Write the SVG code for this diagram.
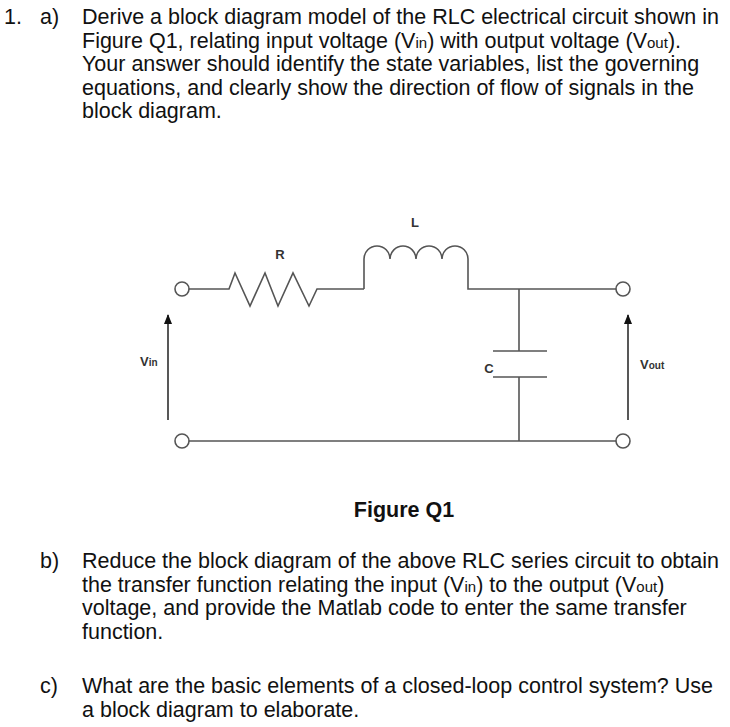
<svg xmlns="http://www.w3.org/2000/svg" width="730" height="727" viewBox="0 0 730 727">
<style>
.t{font-family:"Liberation Sans",Arial,sans-serif;font-size:21.5px;fill:#111}
.l{font-family:"Liberation Sans",Arial,sans-serif;font-size:13px;fill:#333}
.s{font-size:10px}
.w{fill:none;stroke:#555;stroke-width:1.6}
</style>
<defs><marker id="ah" markerWidth="10" markerHeight="8" refX="9" refY="4" orient="auto" markerUnits="userSpaceOnUse" viewBox="0 0 10 8"><path d="M0,0 L10,4 L0,8 Z" fill="#111"/></marker></defs>
<rect width="730" height="727" fill="#fff"/>
<g id="text">
<text class="t" x="4" y="24">1.</text>
<text class="t" x="40" y="24">a)</text>
<text class="t" x="82" y="24">Derive a block diagram model of the RLC electrical circuit shown in</text>
<text class="t" x="82" y="47.5">Figure Q1, relating input voltage (V<tspan font-size="15">in</tspan>) with output voltage (V<tspan font-size="15">out</tspan>).</text>
<text class="t" x="82" y="71">Your answer should identify the state variables, list the governing</text>
<text class="t" x="82" y="94.5">equations, and clearly show the direction of flow of signals in the</text>
<text class="t" x="82" y="118">block diagram.</text>
<text class="t" x="404" y="517" text-anchor="middle" font-weight="bold" font-size="19">Figure Q1</text>
<text class="t" x="40" y="568">b)</text>
<text class="t" x="82" y="568">Reduce the block diagram of the above RLC series circuit to obtain</text>
<text class="t" x="82" y="591.5">the transfer function relating the input (V<tspan font-size="15">in</tspan>) to the output (V<tspan font-size="15">out</tspan>)</text>
<text class="t" x="82" y="615">voltage, and provide the Matlab code to enter the same transfer</text>
<text class="t" x="82" y="638.5">function.</text>
<text class="t" x="40" y="693">c)</text>
<text class="t" x="82" y="693">What are the basic elements of a closed-loop control system? Use</text>
<text class="t" x="82" y="716.5">a block diagram to elaborate.</text>
</g>
<g id="connectors">
<path class="w" d="M189,289 H229 L235,273 L250,306 L265,273 L278,306 L293,273 L309,306 L317,289 H364"/>
<path class="w" d="M364,289 V259 A13,13 0 0 1 390,259 A13,13 0 0 1 416,259 A13,13 0 0 1 442,259 A13,13 0 0 1 468,259 V289 H616"/>
<path class="w" d="M519,289 V351 M493,351 H547 M493,377 H547 M519,377 V441"/>
<path class="w" d="M189,441 H616"/>
<line x1="168" y1="420" x2="168" y2="315" stroke="#111" stroke-width="1.4" marker-end="url(#ah)"/>
<line x1="628" y1="420" x2="628" y2="315" stroke="#111" stroke-width="1.4" marker-end="url(#ah)"/>
</g>
<g id="terminals">
<circle class="w" cx="182" cy="289" r="7"/>
<circle class="w" cx="182" cy="441" r="7"/>
<circle class="w" cx="623" cy="289" r="7"/>
<circle class="w" cx="623" cy="441" r="7"/>
</g>
<g id="labels">
<text class="l" x="280" y="259" text-anchor="middle" font-weight="bold">R</text>
<text class="l" x="415" y="227" text-anchor="middle" font-weight="bold">L</text>
<text class="l" x="489" y="373" text-anchor="middle" font-weight="bold">C</text>
<text class="l" x="140" y="366" font-weight="bold">V<tspan class="s">in</tspan></text>
<text class="l" x="640" y="369" font-weight="bold">V<tspan class="s">out</tspan></text>
</g>
</svg>
